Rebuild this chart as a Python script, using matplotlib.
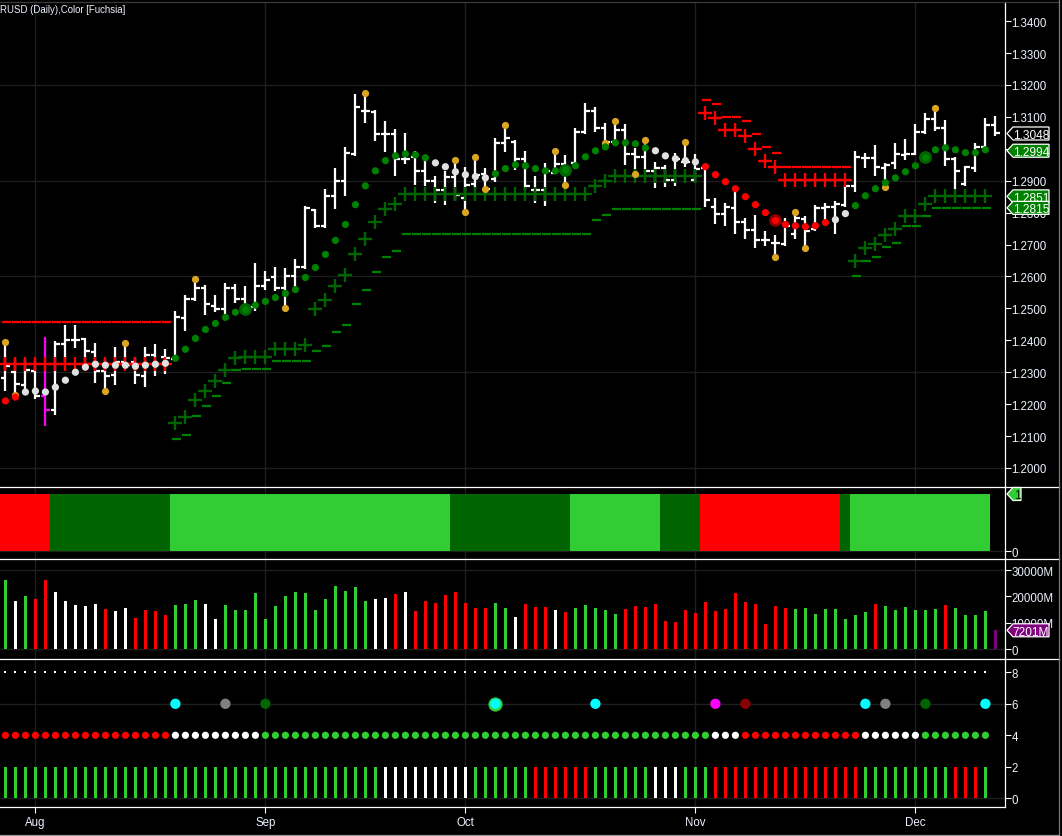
import matplotlib
matplotlib.use("Agg")
import numpy as np
import matplotlib.pyplot as plt
from matplotlib.lines import Line2D
from matplotlib.patches import Polygon
from matplotlib.transforms import IdentityTransform
from matplotlib.ticker import FuncFormatter

plt.rcParams['font.family'] = ['Liberation Sans', 'DejaVu Sans']

W, H = 1062, 837

highs = [1.2394,1.2341,1.2341,1.2334,1.2409,1.2397,1.2447,1.2447,1.2406,1.2391,
         1.2341,1.2378,1.2397,1.2347,1.2378,1.2388,1.2372,1.2491,1.2541,1.2591,
         1.2572,1.2541,1.2581,1.2578,1.2569,1.2641,1.2616,1.2631,1.2628,1.2656,
         1.2822,1.2813,1.2875,1.2941,1.3006,1.3172,1.3178,1.3122,1.3088,1.3063,
         1.3050,1.2994,1.2975,1.2916,1.2931,1.2959,1.2944,1.2966,1.2941,1.3034,
         1.3075,1.3028,1.2994,1.2916,1.2956,1.2997,1.2981,1.3066,1.3144,1.3131,
         1.3081,1.3091,1.3078,1.3003,1.3028,1.2959,1.2950,1.2988,1.3022,1.2984,
         1.2944,1.2847,1.2831,1.2881,1.2784,1.2794,1.2744,1.2731,1.2784,1.2809,
         1.2788,1.2825,1.2831,1.2838,1.2888,1.2994,1.2988,1.3013,1.2956,1.3019,
         1.3031,1.3078,1.3113,1.3128,1.3091,1.2975,1.2947,1.3019,1.3097,1.3103]
lows = [1.2241,1.2231,1.2241,1.2216,1.2131,1.2166,1.2331,1.2375,1.2331,1.2266,
        1.2241,1.2260,1.2309,1.2263,1.2253,1.2288,1.2294,1.2341,1.2429,1.2522,
        1.2478,1.2488,1.2481,1.2516,1.2497,1.2491,1.2559,1.2553,1.2503,1.2559,
        1.2625,1.2753,1.2753,1.2813,1.2853,1.2978,1.3081,1.3025,1.2991,1.2916,
        1.2953,1.2888,1.2884,1.2831,1.2825,1.2838,1.2809,1.2878,1.2869,1.2897,
        1.2991,1.2934,1.2872,1.2831,1.2822,1.2925,1.2888,1.2956,1.3047,1.3053,
        1.3013,1.3022,1.2950,1.2919,1.2928,1.2878,1.2881,1.2884,1.2944,1.2897,
        1.2819,1.2766,1.2759,1.2734,1.2716,1.2688,1.2694,1.2663,1.2697,1.2716,
        1.2691,1.2741,1.2763,1.2734,1.2819,1.2866,1.2941,1.2916,1.2878,1.2938,
        1.2966,1.2981,1.3047,1.3056,1.2947,1.2875,1.2884,1.2928,1.3006,1.3041]
opens = [1.2281,1.2300,1.2260,1.2303,1.2225,1.2181,1.2388,1.2400,1.2403,1.2363,
         1.2303,1.2291,1.2331,1.2331,1.2288,1.2353,1.2347,1.2341,1.2469,1.2528,
         1.2563,1.2506,1.2497,1.2563,1.2528,1.2503,1.2569,1.2597,1.2563,1.2600,
         1.2631,1.2809,1.2759,1.2853,1.2900,1.2984,1.3119,1.3116,1.3047,1.3047,
         1.2969,1.2975,1.2931,1.2900,1.2872,1.2913,1.2847,1.2891,1.2922,1.2906,
         1.3019,1.3022,1.2969,1.2872,1.2872,1.2925,1.2953,1.2956,1.3053,1.3119,
         1.3066,1.3022,1.3059,1.2984,1.2975,1.2931,1.2941,1.2903,1.2959,1.2903,
         1.2941,1.2819,1.2797,1.2816,1.2772,1.2747,1.2713,1.2706,1.2703,1.2734,
         1.2781,1.2750,1.2816,1.2819,1.2825,1.2884,1.2972,1.2972,1.2941,1.2956,
         1.2981,1.2984,1.3053,1.3094,1.3066,1.2969,1.2891,1.2941,1.3006,1.3075]
closes = [1.2319,1.2263,1.2306,1.2225,1.2181,1.2388,1.2400,1.2400,1.2366,1.2303,
          1.2288,1.2331,1.2322,1.2291,1.2353,1.2325,1.2344,1.2472,1.2528,1.2563,
          1.2513,1.2497,1.2563,1.2528,1.2503,1.2569,1.2588,1.2563,1.2600,1.2631,
          1.2816,1.2759,1.2853,1.2900,1.2988,1.3131,1.3119,1.3047,1.3047,1.2969,
          1.2969,1.2931,1.2900,1.2872,1.2913,1.2856,1.2888,1.2919,1.2875,1.3019,
          1.3034,1.2969,1.2884,1.2872,1.2931,1.2953,1.2934,1.3053,1.3119,1.3066,
          1.3022,1.3059,1.2984,1.2975,1.2931,1.2941,1.2903,1.2969,1.2959,1.2938,
          1.2841,1.2797,1.2819,1.2772,1.2747,1.2713,1.2713,1.2706,1.2759,1.2784,
          1.2744,1.2816,1.2819,1.2828,1.2884,1.2975,1.2972,1.2944,1.2950,1.2984,
          1.2984,1.3053,1.3094,1.3066,1.2969,1.2931,1.2944,1.3006,1.3075,1.3048]

# trailing dots, one per bar up to i=98
trail = [1.2210,1.2222,1.2238,1.2241,1.2238,1.2253,1.2275,1.2300,1.2316,1.2325,
         1.2322,1.2322,1.2322,1.2319,1.2322,1.2325,1.2328,1.2344,1.2372,1.2406,
         1.2434,1.2453,1.2472,1.2488,1.2497,1.2510,1.2522,1.2534,1.2547,1.2559,
         1.2597,1.2628,1.2669,1.2713,1.2763,1.2825,1.2884,1.2931,1.2963,1.2978,
         1.2984,1.2981,1.2972,1.2956,1.2944,1.2928,1.2919,1.2913,1.2909,1.2922,
         1.2938,1.2950,1.2947,1.2938,1.2931,1.2931,1.2934,1.2947,1.2975,1.2994,
         1.3006,1.3019,1.3019,1.3016,1.3003,1.2994,1.2978,1.2969,1.2963,1.2959,
         1.2944,1.2919,1.2897,1.2875,1.2850,1.2825,1.2800,1.2778,1.2763,1.2759,
         1.2756,1.2759,1.2769,1.2778,1.2797,1.2822,1.2853,1.2875,1.2894,1.2909,
         1.2928,1.2947,1.2975,1.2997,1.3003,1.2997,1.2988,1.2988,1.2997]
trail_colors = 'rr' + 'l'*15 + 'd'*26 + 'l'*6 + 'd'*16 + 'l'*5 + 'r'*13 + 'l'*2 + 'd'*14
big_dots = [24, 56, 77, 92]

swing_idx = [0,1,10,12,19,28,36,45,46,47,48,50,55,56,60,61,63,64,68,77,79,80,88,93]
swing_val = [1.2394,1.2228,1.2241,1.2391,1.2591,1.2500,1.3175,1.2965,1.2803,1.2975,1.2875,1.3075,
             1.2994,1.2888,1.3019,1.3088,1.2922,1.3028,1.3022,1.2660,1.2803,1.2688,1.2881,1.3128]

cross_red1 = [1.2325]*17
cross_green1 = [1.2141,1.2160,1.2213,1.2241,1.2272,1.2306,1.2344,1.2347,1.2347,1.2347,
                1.2372,1.2372,1.2372,1.2384,1.2497,1.2525,1.2569,1.2606,1.2669,1.2719,
                1.2772,1.2813,1.2828] + [1.2859]*19 + [1.2884,1.2900] + [1.2916]*9
cross_red2 = [1.3113,1.3097,1.3059,1.3059,1.3041,1.3000,1.2963,1.2944] + [1.2903]*7
cross_green2 = [1.2647,1.2688,1.2703,1.2731,1.2750,1.2791,1.2791,1.2828] + [1.2853]*6

dash_red1 = [1.2457]*17
dash_green1 = [1.2091,1.2103,1.2163,1.2194,1.2225,1.2266,1.2306,1.2309,1.2309,1.2309,
               1.2334,1.2334,1.2334,1.2334,1.2366,1.2382,1.2425,1.2447,1.2513,1.2557,
               1.2613,1.2660,1.2679] + [1.2733]*19 + [1.2777,1.2793] + [1.2813]*9
dash_red2 = [1.3153,1.3141,1.3100,1.3100,1.3088,1.3047,1.3006,1.2987] + [1.2944]*7
dash_green2 = [1.2603,1.2650,1.2660,1.2691,1.2706,1.2757,1.2757,1.2791] + [1.2816]*6

band_colors = 'r'*5 + 'd'*12 + 'g'*28 + 'd'*12 + 'g'*9 + 'd'*4 + 'r'*14 + 'd' + 'g'*14

volume = [26100,18200,20100,18900,26100,21600,18200,16700,16300,17000,
          15200,14400,15500,11700,14800,14400,12900,16700,17000,18600,
          17000,11400,16700,14800,14800,21200,11400,16300,20100,21600,
          21200,14800,18900,23900,22000,23500,18200,18900,19300,20800,
          21600,14400,18200,17400,20500,21600,17400,15500,15500,17400,
          15500,12100,17000,16000,16000,14900,14100,15700,16800,15700,
          14900,13400,15300,16400,16000,17200,10700,10400,14900,13800,
          17900,14500,15300,21300,17900,17200,9600,16400,15700,15300,
          15700,13400,15300,15300,11500,13000,14100,17200,16400,14900,
          16000,14900,14900,15300,16800,15700,13000,13000,14500,7201]
vol_colors = ('gwgrr' 'wwwww' 'rwwrr' 'rrggg' 'wwggg' 'ggggg' 'ggggg' 'ggwwr' 'wrrrr' 'rrrrg'
              'gwrrr' 'wrggg' 'ggrrr' 'rrrrr' 'rrrrr' 'rrrrg' 'ggggg' 'ggrgg' 'ggggr' 'ggggp')

row4_colors = 'r'*17 + 'w'*9 + 'g'*45 + 'w'*3 + 'r'*12 + 'w'*6 + 'g'*7
row2_colors = 'g'*38 + 'w'*9 + 'g'*6 + 'r'*6 + 'g'*6 + 'w'*3 + 'g'*3 + 'r'*15 + 'g'*9 + 'r'*3 + 'g'
row6_idx = [17, 22, 26, 49, 59, 71, 74, 86, 88, 92, 98]
row6_colors = ['#00ffff','#808080','#006400','#00ffff','#00ffff','#ff00ff','#8b0000','#00ffff','#808080','#006400','#00ffff']

month_idx = [3, 26, 46, 69, 91]
month_names = ['Aug', 'Sep', 'Oct', 'Nov', 'Dec']

MAIN = {'r': '#ff0000', 'g': '#32cd32', 'd': '#006400', 'w': '#ffffff', 'p': '#800080'}
DOTC = {'r': '#ff0000', 'd': '#008000', 'l': '#e0e0e0'}
TXT = '#eef2ff'
GRID = '#1e1e1e'
LW = 1.62  # a bit over 2px, agg snaps thinner lines down
DOT = 27


def axes_px(top, bottom, right=1005):
    return fig.add_axes([0, 1 - bottom / H, right / W, (bottom - top) / H], facecolor='black')


fig = plt.figure(figsize=(W / 100, H / 100), dpi=100, facecolor='black')
x_lim = (-0.54, 99.96)

ax_p = axes_px(3, 487.5)
ax_b = axes_px(487.5, 560.3)
ax_v = axes_px(560.3, 660.3)
ax_s = axes_px(660.3, 808.3)

for ax in (ax_p, ax_b, ax_v, ax_s):
    ax.set_xlim(*x_lim)
    ax.yaxis.tick_right()
    for s in ('top', 'left', 'bottom'):
        ax.spines[s].set_visible(False)
    ax.spines['right'].set_color('white')
    ax.spines['right'].set_linewidth(0.9)
    ax.tick_params(axis='y', colors='white', labelcolor=TXT, length=4.3, width=0.8, labelsize=8.3, pad=0.5)
    ax.tick_params(axis='x', length=0)
    ax.set_xticks(month_idx)
    ax.set_xticklabels([])
    ax.set_axisbelow(True)
    ax.xaxis.grid(True, color=GRID, lw=1)

# price panel
ax_p.set_ylim(1.1942, 1.3460)
ax_p.set_yticks(np.arange(1.20, 1.3401, 0.01))
ax_p.yaxis.set_major_formatter(FuncFormatter(lambda v, _: '%.4f' % v))
for lvl in (1.20, 1.23, 1.26, 1.29, 1.32):
    ax_p.axhline(lvl, color=GRID, lw=1, zorder=0)

idx = np.arange(len(highs))
bar_cols = ['#ff00ff' if i == 4 else 'white' for i in idx]
ax_p.vlines(idx, lows, highs, colors=bar_cols, lw=LW, zorder=2)
ax_p.hlines(opens, idx - 0.45, idx, colors=bar_cols, lw=LW, zorder=2)
ax_p.hlines(closes, idx, idx + 0.45, colors=bar_cols, lw=LW, zorder=2)

# dashes and crosses
seq = [(0, cross_red1, dash_red1, '#ff0000', '#ff0000'),
       (17, cross_green1, dash_green1, '#006400', '#008000'),
       (70, cross_red2, dash_red2, '#ff0000', '#ff0000'),
       (85, cross_green2, dash_green2, '#006400', '#008000')]
for start, cr, da, ccol, dcol in seq:
    xs = np.arange(start, start + len(cr))
    ax_p.hlines(da, xs - 0.45 + 0.1, xs + 0.45 + 0.1, colors=dcol, lw=LW, zorder=3)
    ax_p.plot(xs, cr, ls='none', marker='+', ms=9.5, mew=1.7, color=ccol, zorder=3)

ax_p.scatter(swing_idx, swing_val, s=DOT, color='#daa520', lw=0, zorder=4)
ti = np.arange(len(trail))
ax_p.scatter(ti, trail, s=DOT, c=[DOTC[c] for c in trail_colors], lw=0, zorder=5)
for i in big_dots:
    ring = '#8b0000' if trail_colors[i] == 'r' else '#006400'
    ax_p.scatter([i], [trail[i]], s=85, color=ring, lw=0, zorder=5)
    ax_p.scatter([i], [trail[i]], s=DOT, color=DOTC[trail_colors[i]], lw=0, zorder=6)

fig.text(0, 1 - 10 / H, 'RUSD (Daily),Color [Fuchsia]', color=TXT, fontsize=6.9, va='center', ha='left')

# trend band panel
ax_b.set_ylim(-0.136, 1.130)
ax_b.bar(np.arange(len(band_colors)), [1] * len(band_colors), width=1.0,
         color=[MAIN[c] for c in band_colors], lw=0, zorder=2)
ax_b.set_yticks([0])
ax_b.axhline(0, color=GRID, lw=1, zorder=0)

# volume panel
ax_v.set_ylim(-3788, 34090)
ax_v.bar(np.arange(len(volume)), volume, width=0.3, color=[MAIN[c] for c in vol_colors], lw=0, zorder=2)
ax_v.set_yticks([0, 10000, 20000, 30000])
ax_v.set_yticklabels(['0', '10000M', '20000M', '30000M'])
ax_v.axhline(0, color=GRID, lw=1, zorder=0)
ax_v.axhline(30000, color=GRID, lw=1, zorder=0)

# signal panel
ax_s.set_ylim(-0.571, 8.825)
ax_s.set_yticks([0, 2, 4, 6, 8])
ax_s.axhline(0, color=GRID, lw=1, zorder=0)
ax_s.axhline(6, color=GRID, lw=1, zorder=0)
s_i = np.arange(len(row2_colors))
ax_s.bar(s_i, [2] * len(s_i), width=0.3, color=[MAIN[c] for c in row2_colors], lw=0, zorder=2)
ax_s.scatter(s_i, [4] * len(s_i), s=DOT, c=[MAIN[c] for c in row4_colors], lw=0, zorder=2)
ax_s.scatter(s_i, [8] * len(s_i), s=3.5, marker='s', color='white', lw=0, zorder=2)
ax_s.scatter([49], [6], s=105, color='#32cd32', lw=0, zorder=2)
ax_s.scatter(row6_idx, [6] * len(row6_idx), s=55, c=row6_colors, lw=0, zorder=3)

ax_s.spines['bottom'].set_visible(True)
ax_s.spines['bottom'].set_color('white')
ax_s.spines['bottom'].set_linewidth(0.9)
ax_s.tick_params(axis='x', length=4.3, width=0.8, colors='white', labelcolor=TXT, labelsize=8.3, pad=2)
ax_s.set_xticklabels(month_names)


# separators and outer frame, given in figure pixels
def px_line(x0, y0, x1, y1, col='white', lw=0.9):
    fig.add_artist(Line2D([x0 / W, x1 / W], [1 - y0 / H, 1 - y1 / H], color=col, lw=lw))


for y in (487.5, 560.3, 660.3):
    px_line(0, y, 1059, y)
px_line(0, 3, 1059, 3, '#3a3a3a')
px_line(1059, 0, 1059, 837, '#7a7a7a')
px_line(0, 835.5, 1059, 835.5, '#9a9a9a')


def flag(ax, value, text, fc, tc='white', right=1049):
    y = ax.transData.transform((0, value))[1]
    pts = [(1007, y), (1013, y + 6.5), (right, y + 6.5), (right, y - 6.5), (1013, y - 6.5)]
    fig.add_artist(Polygon(pts, closed=True, fc=fc, ec='white', lw=0.9,
                           transform=IdentityTransform(), zorder=5))
    fig.text((1013 + right) / 2 / W, y / H, text, color=tc, fontsize=8.6,
             ha='center', va='center_baseline', zorder=6)


flag(ax_p, 1.3048, '1.3048', 'black')
flag(ax_p, 1.2994, '1.2994', '#008000')
flag(ax_p, 1.2851, '1.2851', '#008000')
flag(ax_p, 1.2815, '1.2815', '#008000')
flag(ax_b, 1, '1', '#32cd32', tc='#002000', right=1021)
flag(ax_v, 7201, '7201M', '#800080')

fig.savefig('out.png', dpi=100, facecolor='black')
